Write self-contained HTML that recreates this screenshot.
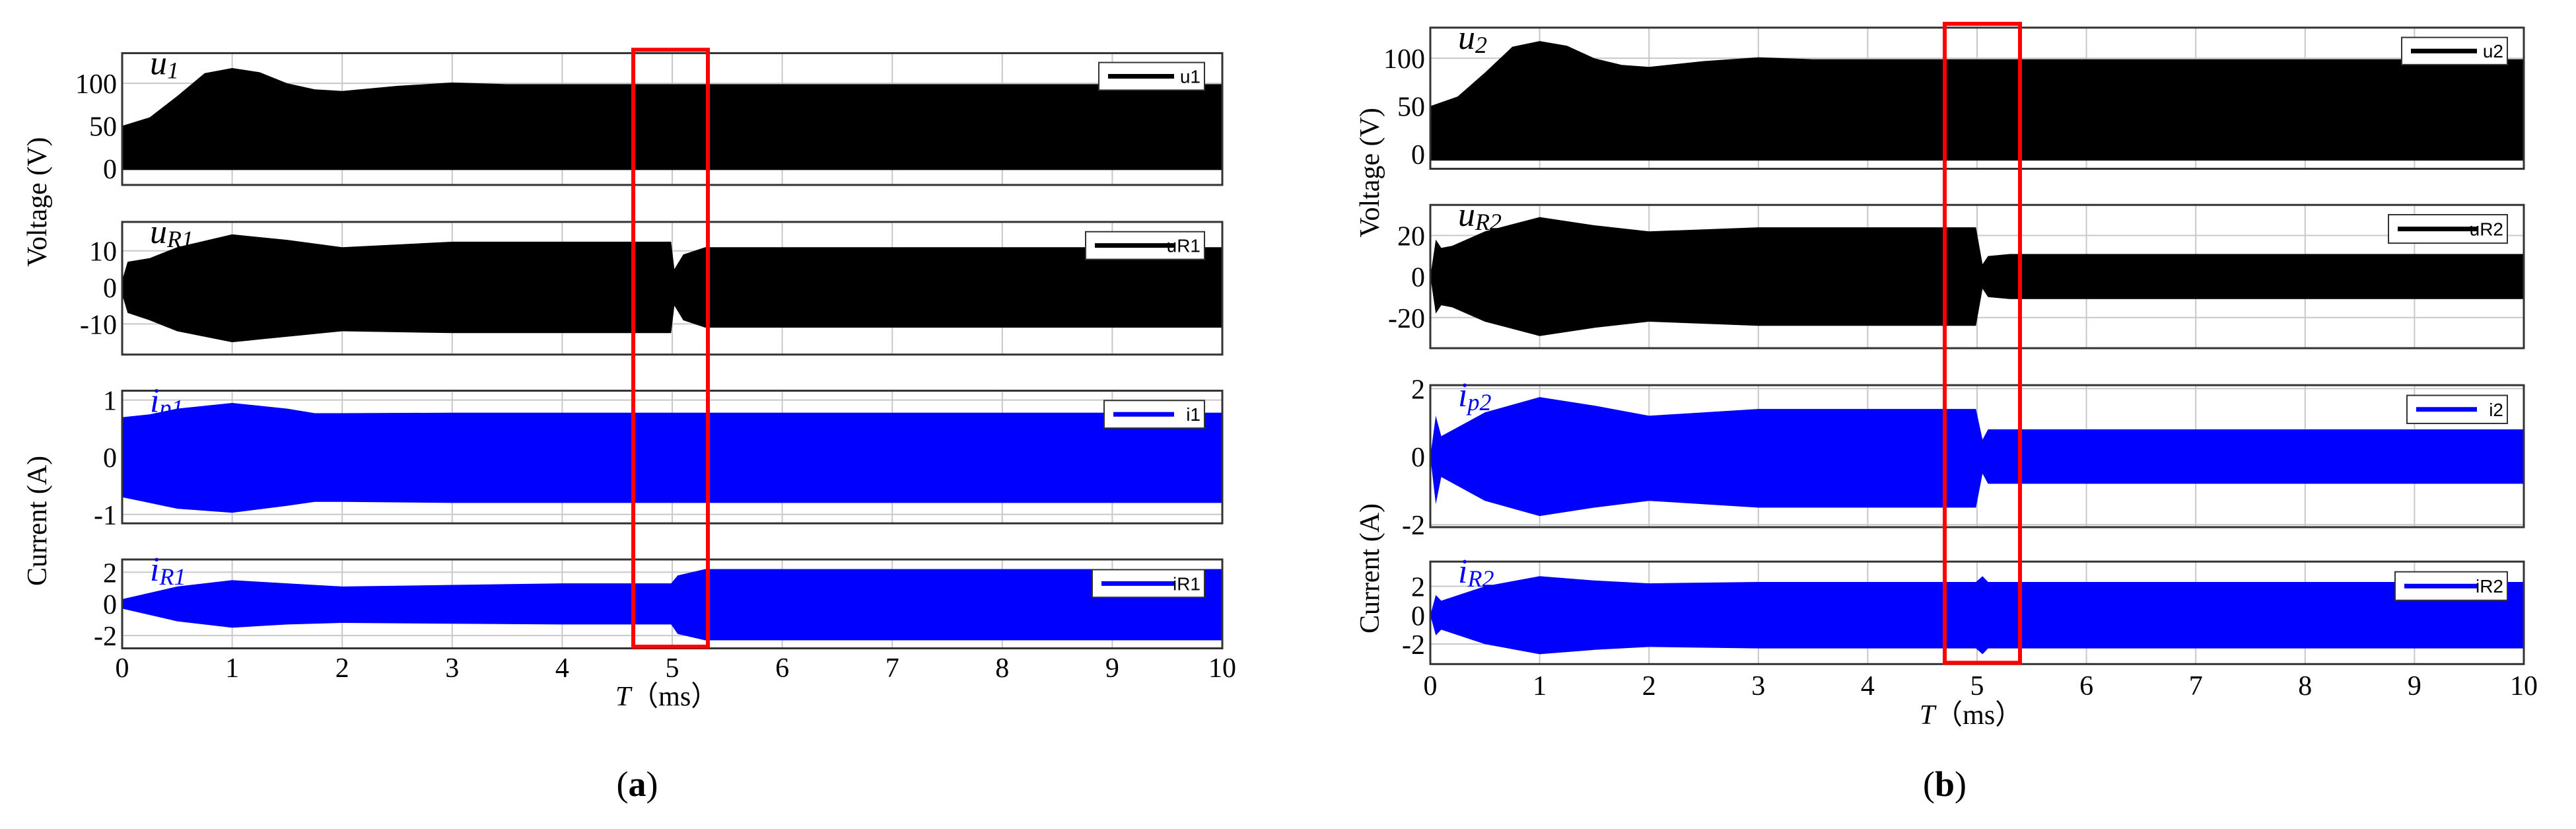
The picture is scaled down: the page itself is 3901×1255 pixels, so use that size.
<!DOCTYPE html>
<html><head><meta charset="utf-8">
<style>
html,body{margin:0;padding:0;background:#fff;}
svg{display:block;}
text{font-family:"Liberation Serif",serif;}
</style></head>
<body>
<svg id="chart" width="3901" height="1255" viewBox="0 0 3901 1255" xmlns="http://www.w3.org/2000/svg"></svg>
<script>
// ----- data (envelopes, time in ms) -----
const xTicks = [0,1,2,3,4,5,6,7,8,9,10];
const u1T = [0,0.25,0.5,0.75,1,1.25,1.5,1.75,2,2.5,3,3.5,4,5,10];
const u1Up = [50,60,85,112,118,113,100,93,91,97,101,99,99,99,99];
const u1Lo = [-2,-2,-2,-2,-2,-2,-2,-2,-2,-2,-2,-2,-2,-2,-2];
const uR1T = [0,0.05,0.25,0.5,1,1.5,2,3,4,4.99,5.02,5.1,5.3,10];
const uR1Up = [2,7,8,11,14.5,13,11,12.5,12.5,12.5,5,9,11,11];
const uR1Lo = [-2,-7,-9,-12,-15,-13.5,-12,-12.5,-12.5,-12.5,-5,-9,-11,-11];
const ip1T = [0,0.25,0.5,1,1.5,1.75,2,3,10];
const ip1Up = [0.7,0.75,0.85,0.95,0.85,0.77,0.77,0.78,0.78];
const ip1Lo = [-0.7,-0.8,-0.9,-0.97,-0.85,-0.78,-0.78,-0.8,-0.8];
const iR1T = [0,0.5,1,1.5,2,3,4,4.99,5.05,5.3,10];
const iR1Up = [0.3,1.1,1.5,1.3,1.1,1.2,1.3,1.3,1.8,2.2,2.2];
const iR1Lo = [-0.3,-1.1,-1.5,-1.3,-1.2,-1.25,-1.3,-1.3,-1.9,-2.3,-2.3];
const u2T = [0,0.25,0.5,0.75,1,1.25,1.5,1.75,2,2.5,3,3.5,4,5,10];
const u2Up = [50,60,85,112,118,113,100,93,91,97,101,99,99,99,99];
const u2Lo = [-7,-7,-7,-7,-7,-7,-7,-7,-7,-7,-7,-7,-7,-7,-7];
const uR2T = [0,0.05,0.1,0.2,0.5,1,1.5,2,3,4,4.99,5.05,5.1,5.3,10];
const uR2Up = [0,18,14,15,22,29,25,22,24,24,24,6,10,11,11];
const uR2Lo = [0,-18,-14,-15,-22,-29,-25,-22,-24,-24,-24,-6,-10,-11,-11];
const ip2T = [0,0.05,0.1,0.5,1,1.5,2,3,4.99,5.05,5.1,10];
const ip2Up = [0,1.2,0.6,1.3,1.75,1.5,1.2,1.4,1.4,0.5,0.8,0.8];
const ip2Lo = [0,-1.4,-0.6,-1.3,-1.75,-1.5,-1.3,-1.5,-1.5,-0.5,-0.8,-0.8];
const iR2T = [0,0.05,0.1,0.5,1,1.5,2,3,4.99,5.05,5.1,10];
const iR2Up = [0,1.4,1,2,2.7,2.4,2.2,2.3,2.3,2.7,2.3,2.3];
const iR2Lo = [0,-1.4,-1,-2,-2.7,-2.4,-2.2,-2.3,-2.3,-2.7,-2.3,-2.3];

const NS="http://www.w3.org/2000/svg";
const svg=document.getElementById('chart');
function mk(tag,attrs,parent){const e=document.createElementNS(NS,tag);for(const k in attrs)e.setAttribute(k,attrs[k]);(parent||svg).appendChild(e);return e;}
const K=0.6436; // vertical layout factor
const Y=v=>v*K;

const panels=[
 {id:'a',x0:185,x1:1851,ylabX:70,letter:'(a)',letterX:965,tickY:1025,tLabX:1010,tLabY:1068,
  vTitleY:Y(475),cTitleY:Y(1225),
  box:[959,117,1072,1521],
  subs:[
   {n:'u1',top:125,bot:435,v1:100,p1:196,v2:0,p2:396,ticks:[0,50,100],tl:['0','50','100'],t:u1T,up:u1Up,lo:u1Lo,col:'#000',lab:'u',sub:'1',lg:'u1',lgBox:[1664,147,1824,212]},
   {n:'uR1',top:522,bot:834,v1:10,p1:590,v2:-10,p2:762,ticks:[-10,0,10],tl:['-10','0','10'],t:uR1T,up:uR1Up,lo:uR1Lo,col:'#000',lab:'u',sub:'R1',lg:'uR1',lgBox:[1644,545,1824,610]},
   {n:'ip1',top:919,bot:1231,v1:1,p1:941,v2:-1,p2:1210,ticks:[-1,0,1],tl:['-1','0','1'],t:ip1T,up:ip1Up,lo:ip1Lo,col:'#0000ff',lab:'i',sub:'p1',lg:'i1',lgBox:[1672,942,1824,1007]},
   {n:'iR1',top:1316,bot:1525,v1:2,p1:1346,v2:-2,p2:1495,ticks:[-2,0,2],tl:['-2','0','2'],t:iR1T,up:iR1Up,lo:iR1Lo,col:'#0000ff',lab:'i',sub:'R1',lg:'iR1',lgBox:[1654,1340,1824,1405]}
  ]},
 {id:'b',x0:2166,x1:3822,ylabX:2088,letter:'(b)',letterX:2945,tickY:1052,tLabX:2985,tLabY:1096,
  vTitleY:Y(406),cTitleY:Y(1337),
  box:[2945,56,3059,1559],
  subs:[
   {n:'u2',top:65,bot:397,v1:100,p1:137,v2:0,p2:362,ticks:[0,50,100],tl:['0','50','100'],t:u2T,up:u2Up,lo:u2Lo,col:'#000',lab:'u',sub:'2',lg:'u2',lgBox:[3637,88,3797,152]},
   {n:'uR2',top:482,bot:819,v1:20,p1:554,v2:-20,p2:747,ticks:[-20,0,20],tl:['-20','0','20'],t:uR2T,up:uR2Up,lo:uR2Lo,col:'#000',lab:'u',sub:'R2',lg:'uR2',lgBox:[3617,505,3797,572]},
   {n:'ip2',top:906,bot:1240,v1:2,p1:914,v2:-2,p2:1234,ticks:[-2,0,2],tl:['-2','0','2'],t:ip2T,up:ip2Up,lo:ip2Lo,col:'#0000ff',lab:'i',sub:'p2',lg:'i2',lgBox:[3645,930,3797,996]},
   {n:'iR2',top:1321,bot:1562,v1:2,p1:1379,v2:-2,p2:1515,ticks:[-2,0,2],tl:['-2','0','2'],t:iR2T,up:iR2Up,lo:iR2Lo,col:'#0000ff',lab:'i',sub:'R2',lg:'iR2',lgBox:[3627,1345,3797,1412]}
  ]}
];

panels.forEach(P=>{
  const g=mk('g',{});
  
  
  const xs=t=>P.x0+(P.x1-P.x0)*t/10;
  P.subs.forEach(s=>{
    const top=Y(s.top),bot=Y(s.bot);
    const ys=v=>Y(s.p1+(v-s.v1)*(s.p2-s.p1)/(s.v2-s.v1));
    const sg=mk('g',{},g);
    
    
    mk('rect',{x:P.x0,y:top,width:P.x1-P.x0,height:bot-top,fill:'#fff'},sg);
    xTicks.forEach(t=>{const l=mk('line',{x1:xs(t),x2:xs(t),y1:top,y2:bot,stroke:'#c8c8c8','stroke-width':2},sg);
      });
    s.ticks.forEach((v,i)=>{
      const l=mk('line',{x1:P.x0,x2:P.x1,y1:ys(v),y2:ys(v),stroke:'#c8c8c8','stroke-width':2},sg);
      
      const tx=mk('text',{x:P.x0-8,y:ys(v)+15,'text-anchor':'end','font-size':42,fill:'#000'},sg);
      tx.textContent=s.tl[i];
      
    });
    let pts=[];
    s.t.forEach((t,i)=>pts.push(xs(t).toFixed(1)+','+ys(s.up[i]).toFixed(1)));
    for(let i=s.t.length-1;i>=0;i--)pts.push(xs(s.t[i]).toFixed(1)+','+ys(s.lo[i]).toFixed(1));
    const poly=mk('polygon',{points:pts.join(' '),fill:s.col},sg);
    
    
    const fr=mk('rect',{x:P.x0,y:top,width:P.x1-P.x0,height:bot-top,fill:'none',stroke:'#333','stroke-width':3},sg);
    
    const lb=s.lgBox.map((v,i)=>i%2?Y(v):v);
    const lr=mk('rect',{x:lb[0],y:lb[1],width:lb[2]-lb[0],height:lb[3]-lb[1],fill:'#fff',stroke:'#333','stroke-width':2},sg);
    
    const ll=mk('line',{x1:lb[0]+14,x2:lb[2]-46,y1:(lb[1]+lb[3])/2,y2:(lb[1]+lb[3])/2,stroke:s.col,'stroke-width':7},sg);
    
    const lt=mk('text',{x:lb[2]-6,y:(lb[1]+lb[3])/2+10,'text-anchor':'end','font-size':28,fill:'#000',style:'font-family:"Liberation Sans",sans-serif'},sg);
    lt.textContent=s.lg;
    const sl=mk('text',{x:P.x0+42,y:top+32,'font-size':52,fill:s.col,'font-style':'italic'},sg);
    sl.innerHTML=s.lab+'<tspan font-size="36" dy="6">'+s.sub+'</tspan>';
    
  });
  xTicks.forEach(t=>{
    const tx=mk('text',{x:xs(t),y:P.tickY,'text-anchor':'middle','font-size':42,fill:'#000'},g);
    tx.textContent=t;
  });
  const xl=mk('text',{x:P.tLabX,y:P.tLabY,'text-anchor':'middle','font-size':42,fill:'#000'},g);
  xl.innerHTML='<tspan font-style="italic">T</tspan>（ms）';
  
  const vt=mk('text',{x:P.ylabX,y:P.vTitleY,'text-anchor':'middle','font-size':42,fill:'#000',transform:`rotate(-90 ${P.ylabX} ${P.vTitleY})`},g);
  vt.textContent='Voltage (V)';
  const ct=mk('text',{x:P.ylabX,y:P.cTitleY,'text-anchor':'middle','font-size':42,fill:'#000',transform:`rotate(-90 ${P.ylabX} ${P.cTitleY})`},g);
  ct.textContent='Current (A)';
  const b=P.box;
  const br=mk('rect',{x:b[0],y:Y(b[1]),width:b[2]-b[0],height:Y(b[3])-Y(b[1]),fill:'none',stroke:'#ff0000','stroke-width':6},g);
  
  const lt=mk('text',{x:P.letterX,y:1205,'text-anchor':'middle','font-size':54,fill:'#000'},g);
  lt.innerHTML='(<tspan font-weight="bold">'+P.id+'</tspan>)';
  
});
</script>
</body></html>
